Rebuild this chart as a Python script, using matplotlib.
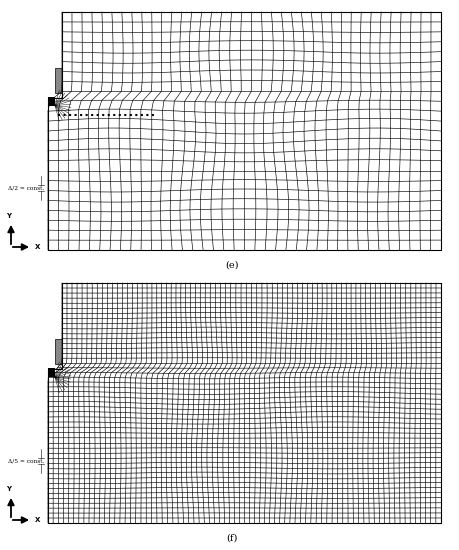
import numpy as np
import matplotlib
matplotlib.use("Agg")
import matplotlib.pyplot as plt

panel_labels = ["(e)", "(f)"]
dim_labels = ["Δ/2 = const.", "Δ/5 = const."]
panel_tops = [12, 283]
panel_bottoms = [250, 523]
cells_x = [38, 76]
cells_y = [24, 48]

fig = plt.figure(figsize=(4.59, 5.5), dpi=100)
ax = fig.add_axes([0, 0, 1, 1])
ax.set_xlim(0, 459); ax.set_ylim(550, 0); ax.axis("off")

def draw_panel(top, bot, nx, ny, lab, dlab, k):
    L, Lu, R = 48, 62, 441
    notch_y = top + (bot - top) * 0.36
    u = np.linspace(0, 1, nx + 1)
    v = np.linspace(0, 1, ny + 1)
    U, V = np.meshgrid(u, v)
    X = U + 0.3 / nx * np.sin(3 * np.pi * V + k) * np.sin(np.pi * U) * np.sin(4 * np.pi * U)
    Y = V + 0.3 / ny * np.sin(3 * np.pi * U + k) * np.sin(np.pi * V) * np.sin(3 * np.pi * V)
    py = top + Y * (bot - top)
    s = 1 / (1 + np.exp((py - notch_y) / 2.0))
    left = L + (Lu - L) * s
    px = left + X * (R - left)
    for i in range(ny + 1):
        ax.plot(px[i], py[i], color="black", lw=0.45)
    for j in range(nx + 1):
        ax.plot(px[:, j], py[:, j], color="black", lw=0.45)
    ax.plot([Lu, R, R, L, L, Lu, Lu], [top, top, bot, bot, notch_y, notch_y, top], color="black", lw=0.8)
    ax.add_patch(plt.Rectangle((Lu - 7, top + 56), 7, 25, fc="#888888", ec="black", lw=0.5))
    ax.add_patch(plt.Rectangle((L, notch_y - 1), 7, 9, fc="black"))
    for a in np.linspace(-1.3, 1.3, 14):
        ax.plot([L + 7, L + 7 + 16 * np.cos(a)], [notch_y + 8, notch_y + 8 + 16 * np.sin(a)], color="black", lw=0.3)
    if k == 0:
        cx = np.linspace(L + 10, 155, 40)
        ax.plot(cx, notch_y + 17 + 0.0 * cx, ls=":", color="black", lw=1.5)
    yd = top + (bot - top) * 0.74
    ax.plot([41, 41], [yd - 12, yd - 3], color="black", lw=0.4)
    ax.plot([41, 41], [yd + 3, yd + 12], color="black", lw=0.4)
    ax.plot([38, 44], [yd - 3, yd - 3], color="black", lw=0.4)
    ax.plot([38, 44], [yd + 3, yd + 3], color="black", lw=0.4)
    ax.text(8, yd, dlab, ha="left", va="center", fontsize=4.2, family="DejaVu Serif")
    ax.annotate("", xy=(11, bot - 28), xytext=(11, bot - 3), arrowprops=dict(arrowstyle="-|>", lw=1.3, color="black"))
    ax.annotate("", xy=(32, bot - 3), xytext=(10, bot - 3), arrowprops=dict(arrowstyle="-|>", lw=1.3, color="black"))
    ax.text(9, bot - 31, "Y", fontsize=5, ha="center", va="bottom", weight="bold")
    ax.text(35, bot - 3, "X", fontsize=5, ha="left", va="center", weight="bold")
    ax.text(232, bot + 15, lab, fontsize=7, ha="center", va="center", family="DejaVu Serif")

for k in range(2):
    draw_panel(panel_tops[k], panel_bottoms[k], cells_x[k], cells_y[k], panel_labels[k], dim_labels[k], k)

fig.savefig("out.png", dpi=100)
